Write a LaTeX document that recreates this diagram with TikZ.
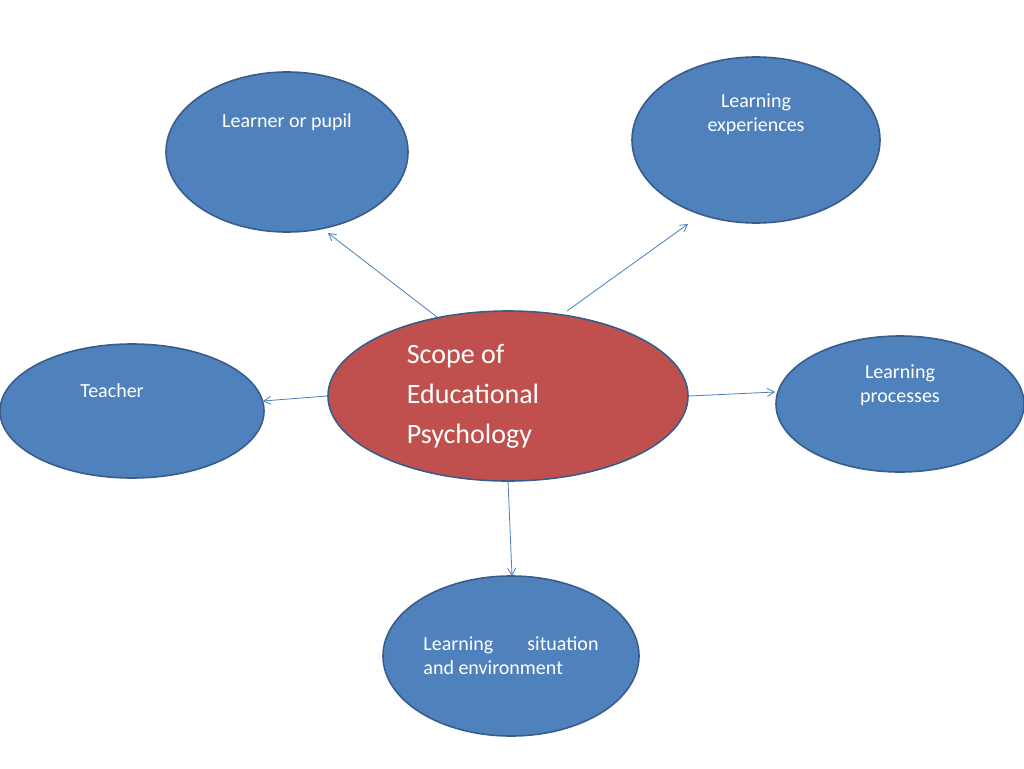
\documentclass[tikz,border=0pt]{standalone}
\usepackage{fontspec}
\setmainfont{Carlito}
\usetikzlibrary{shapes.geometric,arrows.meta}
\begin{document}
\begin{tikzpicture}[x=1pt,y=-1pt,
  blob/.style={ellipse,draw=blue!40!black!70!cyan,line width=1.6pt,fill=bluefill,text=white,font=\fontsize{20}{30}\selectfont,align=center,inner sep=0pt},
  conn/.style={-{Straight Barb[length=7pt,width=8pt]},draw=arrowc,line width=0.8pt}]
\definecolor{bluefill}{HTML}{4F81BD}
\definecolor{redfill}{HTML}{C0504D}
\definecolor{edgec}{HTML}{385D8A}
\definecolor{arrowc}{HTML}{4A7EBB}
\tikzset{blob/.append style={draw=edgec}}
\useasboundingbox (0,0) rectangle (1024,768);
\fill[white] (0,0) rectangle (1024,768);
\node[blob,minimum width=242pt,minimum height=160pt] (lp) at (287,152) {\raisebox{0pt}[0pt][0pt]{}\\[-34pt]Learner or pupil\\[20pt]};
\node[blob,minimum width=248pt,minimum height=166pt] (le) at (756,140) {Learning\\[-6pt]experiences\\[24pt]};
\node[blob,minimum width=264pt,minimum height=134pt] (te) at (132,411) {\hspace*{-40pt}Teacher\\[10pt]};
\node[blob,minimum width=360pt,minimum height=170pt,fill=redfill,font=\fontsize{28}{40}\selectfont,align=left] (c) at (508,396) {\hspace*{-70pt}Scope of\\[-0pt]\hspace*{-70pt}Educational\\\hspace*{-70pt}Psychology};
\node[blob,minimum width=248pt,minimum height=136pt] (pr) at (900,404) {Learning\\[-6pt]processes\\[10pt]};
\node[blob,minimum width=256pt,minimum height=160pt,align=left] (si) at (511,656) {Learning\hspace{34pt}situation\\[-6pt]and environment};
\coordinate (a1) at (437,317); \coordinate (b1) at (328,233);
\coordinate (a2) at (567,311); \coordinate (b2) at (688,224);
\coordinate (a3) at (327,396); \coordinate (b3) at (263,401);
\coordinate (a4) at (689,396); \coordinate (b4) at (775,392);
\coordinate (a5) at (508,481); \coordinate (b5) at (512,576);
\draw[conn] (a1) -- (b1);
\draw[conn] (a2) -- (b2);
\draw[conn] (a3) -- (b3);
\draw[conn] (a4) -- (b4);
\draw[conn] (a5) -- (b5);
\end{tikzpicture}
\end{document}
